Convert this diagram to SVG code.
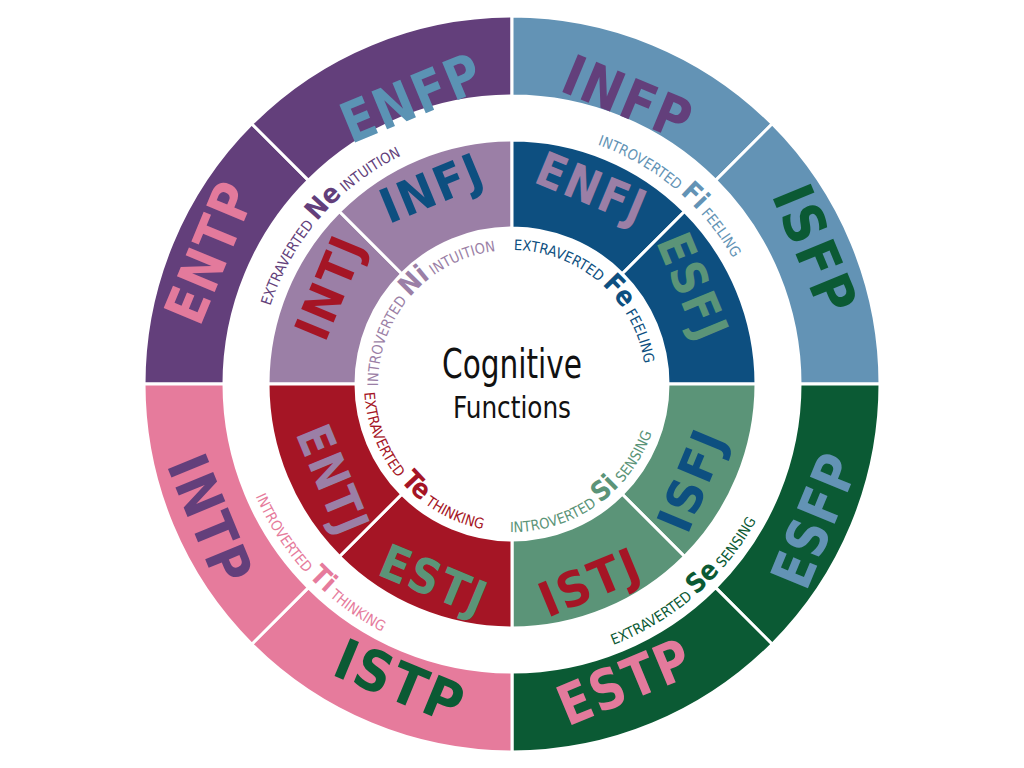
<svg xmlns="http://www.w3.org/2000/svg" width="1024" height="768" viewBox="0 0 1024 768">
<style>
.seg{stroke:#fff;stroke-width:3}
.big{font-family:"DejaVu Sans Condensed","DejaVu Sans",sans-serif;font-stretch:condensed;font-weight:bold;text-anchor:middle;dominant-baseline:central}
.o{font-size:56px;letter-spacing:2px}
.i{font-size:48px;letter-spacing:2px}
.gap{font-family:"DejaVu Sans Condensed","DejaVu Sans",sans-serif;font-stretch:condensed;font-size:14.5px;text-anchor:middle}
.fn{font-size:27px;font-weight:bold}
.ctr{font-family:"DejaVu Sans Condensed","DejaVu Sans",sans-serif;font-stretch:condensed;text-anchor:middle;fill:#111}
</style>
<defs>
<path id="pNe" d="M314.6 543.8 A254 254 0 0 1 642.8 166.3"/>
<path id="pNi" d="M407.9 468.3 A134 134 0 0 1 581.0 269.1"/>
<path id="pFi" d="M348.7 189.4 A254 254 0 0 1 732.0 511.0"/>
<path id="pFe" d="M427.7 279.9 A134 134 0 0 1 626.9 453.0"/>
<path id="pSi" d="M407.3 488.7 A148 148 0 0 0 646.1 321.5"/>
<path id="pSe" d="M335.8 601.6 A280 280 0 0 0 752.0 239.8"/>
<path id="pTe" d="M397.0 290.9 A148 148 0 0 0 588.2 510.9"/>
<path id="pTi" d="M288.4 215.5 A280 280 0 0 0 664.5 618.8"/>
</defs>
<rect width="1024" height="768" fill="#fff"/>
<g id="ENTP"><path class="seg" fill="#633f7b" d="M144 384 A368 368 0 0 1 251.8 123.8 L308.4 180.4 A288 288 0 0 0 224 384 Z"/><text class="big o" fill="#e37a9c" transform="translate(210 252) rotate(-67.5)" textLength="148" lengthAdjust="spacingAndGlyphs">ENTP</text></g>
<g id="ENFP"><path class="seg" fill="#633f7b" d="M251.8 123.8 A368 368 0 0 1 512 16 L512 96 A288 288 0 0 0 308.4 180.4 Z"/><text class="big o" fill="#5b93b4" transform="translate(412 98) rotate(-22.5)" textLength="148" lengthAdjust="spacingAndGlyphs">ENFP</text></g>
<g id="INFP"><path class="seg" fill="#6393b5" d="M512 16 A368 368 0 0 1 772.2 123.8 L715.6 180.4 A288 288 0 0 0 512 96 Z"/><text class="big o" fill="#633f7b" transform="translate(628 98) rotate(22.5)" textLength="135" lengthAdjust="spacingAndGlyphs">INFP</text></g>
<g id="ISFP"><path class="seg" fill="#6393b5" d="M772.2 123.8 A368 368 0 0 1 880 384 L800 384 A288 288 0 0 0 715.6 180.4 Z"/><text class="big o" fill="#0b5a34" transform="translate(815 250) rotate(67.5)" textLength="135" lengthAdjust="spacingAndGlyphs">ISFP</text></g>
<g id="ESFP"><path class="seg" fill="#0b5a34" d="M880 384 A368 368 0 0 1 772.2 644.2 L715.6 587.6 A288 288 0 0 0 800 384 Z"/><text class="big o" fill="#6393b5" transform="translate(815 520) rotate(-67.5)" textLength="140" lengthAdjust="spacingAndGlyphs">ESFP</text></g>
<g id="ESTP"><path class="seg" fill="#0b5a34" d="M772.2 644.2 A368 368 0 0 1 512 752 L512 672 A288 288 0 0 0 715.6 587.6 Z"/><text class="big o" fill="#e37a9c" transform="translate(625 682) rotate(-22.5)" textLength="140" lengthAdjust="spacingAndGlyphs">ESTP</text></g>
<g id="ISTP"><path class="seg" fill="#e67b9c" d="M512 752 A368 368 0 0 1 251.8 644.2 L308.4 587.6 A288 288 0 0 0 512 672 Z"/><text class="big o" fill="#0b5a34" transform="translate(400 682) rotate(22.5)" textLength="135" lengthAdjust="spacingAndGlyphs">ISTP</text></g>
<g id="INTP"><path class="seg" fill="#e67b9c" d="M251.8 644.2 A368 368 0 0 1 144 384 L224 384 A288 288 0 0 0 308.4 587.6 Z"/><text class="big o" fill="#633f7b" transform="translate(210 520) rotate(67.5)" textLength="135" lengthAdjust="spacingAndGlyphs">INTP</text></g>
<g id="INTJ"><path class="seg" fill="#9b7fa6" d="M268 384 A244 244 0 0 1 339.5 211.5 L401.7 273.7 A156 156 0 0 0 356 384 Z"/><text class="big i" fill="#a51525" transform="translate(330 287) rotate(-67.5)" textLength="108" lengthAdjust="spacingAndGlyphs">INTJ</text></g>
<g id="INFJ"><path class="seg" fill="#9b7fa6" d="M339.5 211.5 A244 244 0 0 1 512 140 L512 228 A156 156 0 0 0 401.7 273.7 Z"/><text class="big i" fill="#0d4f80" transform="translate(432 188) rotate(-22.5)" textLength="108" lengthAdjust="spacingAndGlyphs">INFJ</text></g>
<g id="ENFJ"><path class="seg" fill="#0d4f80" d="M512 140 A244 244 0 0 1 684.5 211.5 L622.3 273.7 A156 156 0 0 0 512 228 Z"/><text class="big i" fill="#9b7fa6" transform="translate(592 188) rotate(22.5)" textLength="115" lengthAdjust="spacingAndGlyphs">ENFJ</text></g>
<g id="ESFJ"><path class="seg" fill="#0d4f80" d="M684.5 211.5 A244 244 0 0 1 756 384 L668 384 A156 156 0 0 0 622.3 273.7 Z"/><text class="big i" fill="#5b9478" transform="translate(693 287) rotate(67.5)" textLength="112" lengthAdjust="spacingAndGlyphs">ESFJ</text></g>
<g id="ISFJ"><path class="seg" fill="#5b9478" d="M756 384 A244 244 0 0 1 684.5 556.5 L622.3 494.3 A156 156 0 0 0 668 384 Z"/><text class="big i" fill="#0d4f80" transform="translate(692 480) rotate(-67.5)" textLength="106" lengthAdjust="spacingAndGlyphs">ISFJ</text></g>
<g id="ISTJ"><path class="seg" fill="#5b9478" d="M684.5 556.5 A244 244 0 0 1 512 628 L512 540 A156 156 0 0 0 622.3 494.3 Z"/><text class="big i" fill="#a51525" transform="translate(590 582) rotate(-22.5)" textLength="106" lengthAdjust="spacingAndGlyphs">ISTJ</text></g>
<g id="ESTJ"><path class="seg" fill="#a51525" d="M512 628 A244 244 0 0 1 339.5 556.5 L401.7 494.3 A156 156 0 0 0 512 540 Z"/><text class="big i" fill="#5b9478" transform="translate(434 580) rotate(22.5)" textLength="112" lengthAdjust="spacingAndGlyphs">ESTJ</text></g>
<g id="ENTJ"><path class="seg" fill="#a51525" d="M339.5 556.5 A244 244 0 0 1 268 384 L356 384 A156 156 0 0 0 401.7 494.3 Z"/><text class="big i" fill="#9b7fa6" transform="translate(333 480) rotate(67.5)" textLength="115" lengthAdjust="spacingAndGlyphs">ENTJ</text></g>
<g id="labels">
<text class="gap" fill="#633f7b"><textPath href="#pNe" startOffset="50%">EXTRAVERTED <tspan class="fn">Ne</tspan> INTUITION</textPath></text>
<text class="gap" fill="#9b7fa6"><textPath href="#pNi" startOffset="50%">INTROVERTED <tspan class="fn">Ni</tspan> INTUITION</textPath></text>
<text class="gap" fill="#6393b5"><textPath href="#pFi" startOffset="50%">INTROVERTED <tspan class="fn">Fi</tspan> FEELING</textPath></text>
<text class="gap" fill="#0d4f80"><textPath href="#pFe" startOffset="50%">EXTRAVERTED <tspan class="fn">Fe</tspan> FEELING</textPath></text>
<text class="gap" fill="#5b9478"><textPath href="#pSi" startOffset="50%">INTROVERTED <tspan class="fn">Si</tspan> SENSING</textPath></text>
<text class="gap" fill="#0b5a34"><textPath href="#pSe" startOffset="50%">EXTRAVERTED <tspan class="fn">Se</tspan> SENSING</textPath></text>
<text class="gap" fill="#a51525"><textPath href="#pTe" startOffset="50%">EXTRAVERTED <tspan class="fn">Te</tspan> THINKING</textPath></text>
<text class="gap" fill="#e67b9c"><textPath href="#pTi" startOffset="50%">INTROVERTED <tspan class="fn">Ti</tspan> THINKING</textPath></text>
</g>
<g id="center">
<text class="ctr" x="512" y="378" font-size="40" textLength="140" lengthAdjust="spacingAndGlyphs">Cognitive</text>
<text class="ctr" x="512" y="418" font-size="30" textLength="118" lengthAdjust="spacingAndGlyphs">Functions</text>
</g>
</svg>
